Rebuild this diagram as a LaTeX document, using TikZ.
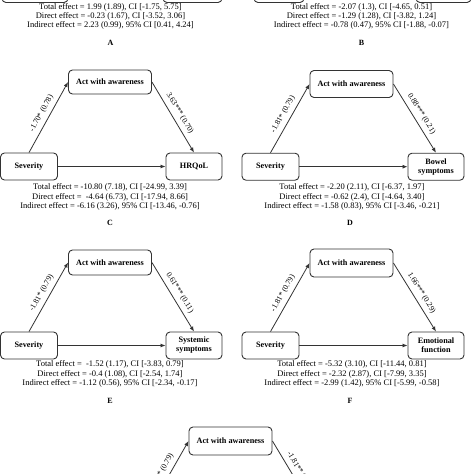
\documentclass[tikz,border=0pt]{standalone}
\usepackage{fontspec}
\setmainfont{Liberation Serif}
\usetikzlibrary{arrows.meta}
\definecolor{ln}{HTML}{333333}
\begin{document}
\begin{tikzpicture}[x=1pt,y=-1pt,
  box/.style={draw=ln, line width=0.9pt, rounded corners=4pt, inner sep=0pt, align=center,
    font=\fontsize{8.2}{9}\selectfont\bfseries},
  medbox/.style={box, minimum width=83pt, minimum height=24pt},
  endbox/.style={box, minimum width=56pt, minimum height=27pt},
  arr/.style={draw=ln, line width=0.8pt, -{Latex[length=5pt,width=4pt]}},
  coef/.style={midway, sloped, above=3pt, inner sep=1pt, font=\fontsize{7.8}{9}\selectfont},
  stats/.style={align=center, inner sep=0pt, font=\fontsize{8.5}{9.2}\selectfont},
  plabel/.style={font=\fontsize{8}{9}\selectfont\bfseries, inner sep=0pt}]
\useasboundingbox (0,0) rectangle (474,474);
\clip (0,0) rectangle (474,474);
% ---------- row 1 (A, B): only box bottoms visible
\node[endbox, minimum width=66pt] (sevA) at (35,-11) {};
\node[endbox, minimum width=59pt] (outA) at (192.5,-11) {};
\node[stats] (stA) at (110.5,16.5) {Total effect = 1.99 (1.89), CI [-1.75, 5.75]\\Direct effect = -0.23 (1.67), CI [-3.52, 3.06]\\Indirect effect = 2.23 (0.99), 95\% CI [0.41, 4.24]};
\node[plabel] (lA) at (110.5,43) {A};
\node[endbox, minimum width=50pt] (sevB) at (279,-11) {};
\node[endbox, minimum width=55pt] (outB) at (443.5,-11) {};
\node[stats] (stB) at (361.5,16.5) {Total effect = -2.07 (1.3), CI [-4.65, 0.51]\\Direct effect = -1.29 (1.28), CI [-3.82, 1.24]\\Indirect effect = -0.78 (0.47), 95\% CI [-1.88, -0.07]};
\node[plabel] (lB) at (361.5,43) {B};
% ---------- C
\node[medbox] (actC) at (110,82) {Act with awareness};
\node[endbox, minimum width=57pt] (sevC) at (29,166.5) {Severity};
\node[endbox] (outC) at (194,166.5) {HRQoL};
\draw[arr] (sevC.north) -- node[coef]{-1.70* (0.78)} (actC.west);
\draw[arr] (actC.east) -- node[coef]{3.63*** (0.70)} (outC.north);
\draw[arr] (sevC) -- (outC);
\node[stats] (stC) at (110,197) {Total effect = -10.80 (7.18), CI [-24.99, 3.39]\\Direct effect = \ -4.64 (6.73), CI [-17.94, 8.66]\\Indirect effect = -6.16 (3.26), 95\% CI [-13.46, -0.76]};
\node[plabel] (lC) at (110,223) {C};
% ---------- D
\node[medbox, minimum height=27pt] (actD) at (351.5,84) {Act with awareness};
\node[endbox, minimum width=57pt] (sevD) at (270.5,166.7) {Severity};
\node[endbox] (outD) at (436,166.7) {Bowel\\symptoms};
\draw[arr] (sevD.north) -- node[coef]{-1.81* (0.79)} (actD.west);
\draw[arr] (actD.east) -- node[coef]{0.88*** (0.21)} (outD.north);
\draw[arr] (sevD) -- (outD);
\node[stats] (stD) at (352,197) {Total effect = -2.20 (2.11), CI [-6.37, 1.97]\\Direct effect = -0.62 (2.4), CI [-4.64, 3.40]\\Indirect effect = -1.58 (0.83), 95\% CI [-3.46, -0.21]};
\node[plabel] (lD) at (350,223) {D};
% ---------- E
\node[medbox, minimum height=25pt] (actE) at (110,262.5) {Act with awareness};
\node[endbox, minimum width=57pt] (sevE) at (29,345.5) {Severity};
\node[endbox] (outE) at (194,345.5) {Systemic\\symptoms};
\draw[arr] (sevE.north) -- node[coef]{-1.81* (0.79)} (actE.west);
\draw[arr] (actE.east) -- node[coef]{0.61*** (0.11)} (outE.north);
\draw[arr] (sevE) -- (outE);
\node[stats] (stE) at (110,374) {Total effect = \ -1.52 (1.17), CI [-3.83, 0.79]\\Direct effect = -0.4 (1.08), CI [-2.54, 1.74]\\Indirect effect = -1.12 (0.56), 95\% CI [-2.34, -0.17]};
\node[plabel] (lE) at (110,401) {E};
% ---------- F
\node[medbox, minimum height=28pt] (actF) at (351.5,263) {Act with awareness};
\node[endbox, minimum width=57pt] (sevF) at (270.5,345.5) {Severity};
\node[endbox] (outF) at (436,345.5) {Emotional\\function};
\draw[arr] (sevF.north) -- node[coef]{-1.81* (0.79)} (actF.west);
\draw[arr] (actF.east) -- node[coef]{1.66*** (0.29)} (outF.north);
\draw[arr] (sevF) -- (outF);
\node[stats] (stF) at (352,374) {Total effect = -5.32 (3.10), CI [-11.44, 0.81]\\Direct effect = -2.32 (2.87), CI [-7.99, 3.35]\\Indirect effect = -2.99 (1.42), 95\% CI [-5.99, -0.58]};
\node[plabel] (lF) at (350,401) {F};
% ---------- G (cut off at the bottom)
\node[medbox, minimum height=28pt] (actG) at (230.5,441) {Act with awareness};
\node[endbox, minimum width=57pt] (sevG) at (148.5,525) {};
\node[endbox] (outG) at (314.5,525) {};
\draw[arr] (sevG.north) -- node[coef]{-1.81* (0.79)} (actG.west);
\draw[arr] (actG.east) -- node[coef]{-1.81** (0.79)} (outG.north);
\end{tikzpicture}
\end{document}
